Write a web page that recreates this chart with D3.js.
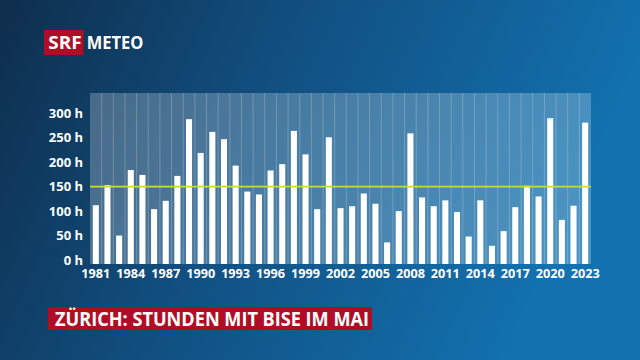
<!DOCTYPE html>
<html><head><meta charset="utf-8">
<script src="https://cdn.jsdelivr.net/npm/d3@7"></script>
<style>html,body{margin:0;padding:0;background:#0d2f4d;}svg{display:block;}</style>
</head><body>
<svg id="c" width="640" height="360"></svg>
<script>
const years = d3.range(1981, 2024);
const hours = [112,153,50,184,174,104,121,172,288,219,262,247,193,140,134,183,196,264,216,104,251,106,110,136,115,36,100,259,128,110,122,98,48,122,29,59,108,152,130,290,82,111,281];
const yTicks = [0,50,100,150,200,250,300];
const xTickYears = d3.range(1981, 2024, 3);
const average = 150;
const title = "ZÜRICH: STUNDEN MIT BISE IM MAI";

const svg = d3.select("#c");
const defs = svg.append("defs");
const g = defs.append("linearGradient").attr("id","bg").attr("x1","0").attr("y1","0").attr("x2","1").attr("y2","0.25");
g.append("stop").attr("offset","0").attr("stop-color","#0e2e4c");
g.append("stop").attr("offset","0.45").attr("stop-color","#114f80");
g.append("stop").attr("offset","1").attr("stop-color","#1272b0");
svg.append("rect").attr("width",640).attr("height",360).attr("fill","url(#bg)");

const L=90, R=591, T=93, B=264;
const x = d3.scaleBand().domain(years).range([L,R]).paddingInner(0.48).paddingOuter(0.24);
const y = d3.scaleLinear().domain([0,300]).range([260,113.3]);

svg.append("rect").attr("x",L).attr("y",T).attr("width",R-L).attr("height",B-T).attr("fill","#fff").attr("fill-opacity",0.24);

const step = x.step();
svg.append("g").selectAll("line").data(years.slice(1)).join("line")
  .attr("x1",d=>x(d)-x.paddingInner()*step/2 ).attr("x2",d=>x(d)-x.paddingInner()*step/2)
  .attr("y1",T).attr("y2",B).attr("stroke","#fff").attr("stroke-opacity",0.22).attr("stroke-width",1);

svg.append("g").selectAll("rect").data(years).join("rect")
  .attr("x",d=>x(d)).attr("width",x.bandwidth())
  .attr("y",(d,i)=>y(hours[i])).attr("height",(d,i)=>B-y(hours[i]))
  .attr("fill","#fff");

svg.append("line").attr("x1",L).attr("x2",R).attr("y1",y(average)).attr("y2",y(average))
  .attr("stroke","#c9dc2a").attr("stroke-width",1.8);

const font = "'Open Sans', 'Noto Sans', sans-serif";
svg.append("g").selectAll("text").data(yTicks).join("text")
  .attr("x",83).attr("y",d=>y(d)).attr("dy","0.36em").attr("text-anchor","end")
  .attr("fill","#fff").attr("font-family",font).attr("font-weight",700).attr("font-size",13)
  .text(d=>d+" h");

svg.append("g").selectAll("text").data(xTickYears).join("text")
  .attr("x",d=>x(d)+x.bandwidth()/2).attr("y",277.5).attr("text-anchor","middle")
  .attr("fill","#fff").attr("font-family",font).attr("font-weight",700).attr("font-size",13)
  .attr("textLength",29).attr("lengthAdjust","spacingAndGlyphs")
  .text(d=>d);

// logo
svg.append("rect").attr("x",44).attr("y",30).attr("width",39.5).attr("height",25).attr("fill","#b00c26");
svg.append("text").attr("x",48.3).attr("y",48.5).attr("fill","#fff").attr("font-family",font).attr("font-weight",700)
  .attr("font-size",17).attr("textLength",33.4).attr("lengthAdjust","spacingAndGlyphs").text("SRF");
svg.append("text").attr("x",86.7).attr("y",48.5).attr("fill","#fff").attr("font-family",font).attr("font-weight",700)
  .attr("font-size",17).attr("textLength",56.6).attr("lengthAdjust","spacingAndGlyphs").text("METEO");

// title
svg.append("rect").attr("x",48).attr("y",307).attr("width",324).attr("height",23).attr("fill","#b00c26");
svg.append("text").attr("x",55).attr("y",325.5).attr("fill","#fff").attr("font-family",font).attr("font-weight",700)
  .attr("font-size",19.5).attr("textLength",314).attr("lengthAdjust","spacingAndGlyphs").text(title);
</script>
</body></html>
